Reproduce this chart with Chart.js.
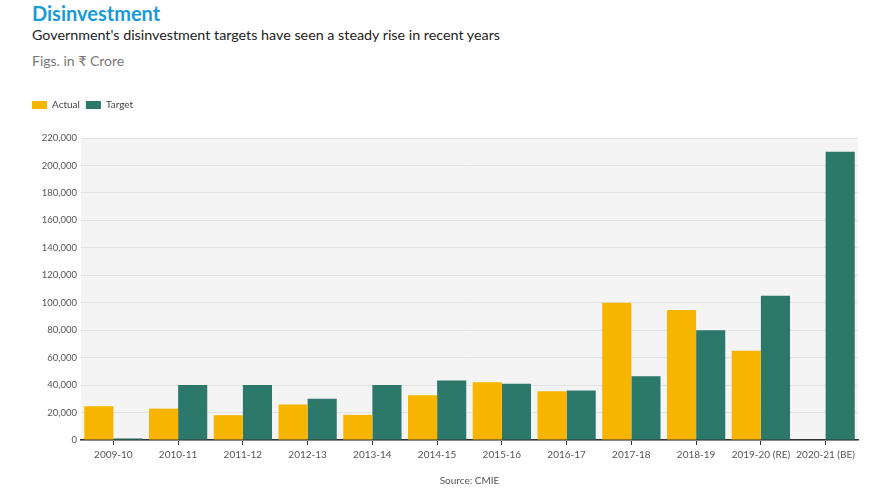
<!DOCTYPE html>
<html lang="en">
<head>
    <meta charset="UTF-8">
    <title>Disinvestment</title>
    <script src="https://cdn.jsdelivr.net/npm/chart.js"></script>
    <style>
        body {
            margin: 0;
            font-family: Lato, "Open Sans", sans-serif;
            background: #fff;
            width: 877px;
            height: 489px;
            position: relative;
            overflow: hidden;
        }
        h1 {
            position: absolute;
            left: 32px;
            top: 1px;
            margin: 0;
            font-size: 20px;
            font-weight: bold;
            color: #1a9ad6;
        }
        .sub {
            position: absolute;
            left: 32px;
            top: 26px;
            font-size: 14.3px;
            color: #222;
        }
        .unit {
            position: absolute;
            left: 32px;
            top: 52px;
            font-size: 14px;
            color: #777;
        }
        .chart-container {
            position: absolute;
            left: 0;
            top: 94px;
            width: 877px;
            height: 395px;
        }
    </style>
</head>
<body>
    <h1>Disinvestment</h1>
    <div class="sub">Government's disinvestment targets have seen a steady rise in recent years</div>
    <div class="unit">Figs. in ₹ Crore</div>

    <div class="chart-container">
        <canvas id="chart"></canvas>
    </div>

    <script>
        const years = ['2009-10', '2010-11', '2011-12', '2012-13', '2013-14', '2014-15',
            '2015-16', '2016-17', '2017-18', '2018-19', '2019-20 (RE)', '2020-21 (BE)'];
        const actual = [24581, 22846, 18088, 25890, 18300, 32600, 42132, 35600, 100045, 94727, 65000, null];
        const target = [1120, 40000, 40000, 30000, 40000, 43425, 41000, 36000, 46500, 80000, 105000, 210000];

        // fondo gris del área del gráfico
        const plotBg = {
            id: 'plotBg',
            beforeDraw(chart) {
                const a = chart.chartArea;
                const ctx = chart.ctx;
                ctx.save();
                ctx.fillStyle = '#f4f4f4';
                ctx.fillRect(a.left, a.top, a.right - a.left, a.bottom - a.top);
                ctx.restore();
            }
        };

        // espacio extra debajo de la leyenda
        const legendGap = {
            id: 'legendGap',
            beforeInit(chart) {
                const fit = chart.legend.fit;
                chart.legend.fit = function () {
                    fit.bind(chart.legend)();
                    this.height += 18;
                };
            }
        };

        new Chart(document.getElementById('chart'), {
            type: 'bar',
            data: {
                labels: years,
                datasets: [{
                    label: 'Actual',
                    data: actual,
                    backgroundColor: '#f8b500',
                    categoryPercentage: 0.9,
                    barPercentage: 1.0
                }, {
                    label: 'Target',
                    data: target,
                    backgroundColor: '#2c786b',
                    categoryPercentage: 0.9,
                    barPercentage: 1.0
                }]
            },
            options: {
                responsive: true,
                maintainAspectRatio: false,
                animation: false,
                layout: { padding: { left: 26, right: 19, top: 0, bottom: 2 } },
                plugins: {
                    legend: {
                        position: 'top',
                        align: 'start',
                        labels: {
                            boxWidth: 15,
                            boxHeight: 8,
                            padding: 6,
                            color: '#444',
                            font: { family: 'Lato', size: 10 }
                        }
                    },
                    tooltip: { enabled: false }
                },
                scales: {
                    x: {
                        grid: {
                            display: true,
                            drawOnChartArea: false,
                            offset: false,
                            tickLength: 5,
                            color: '#333'
                        },
                        border: { color: '#333', width: 1.5 },
                        ticks: {
                            color: '#555',
                            font: { family: 'Lato', size: 10 },
                            maxRotation: 0,
                            autoSkip: false,
                            padding: 4
                        },
                        title: {
                            display: true,
                            text: 'Source: CMIE',
                            color: '#555',
                            font: { family: 'Lato', size: 10 },
                            padding: { top: 10, bottom: 0 }
                        }
                    },
                    y: {
                        min: 0,
                        max: 220000,
                        afterFit: scale => { scale.width = 55; },
                        ticks: {
                            stepSize: 20000,
                            color: '#555',
                            font: { family: 'Lato', size: 9.5 },
                            padding: 4,
                            callback: v => v.toLocaleString('en-US')
                        },
                        grid: { color: '#e2e2e2', tickLength: 0 },
                        border: { display: false }
                    }
                }
            },
            plugins: [plotBg, legendGap]
        });
    </script>
</body>
</html>
